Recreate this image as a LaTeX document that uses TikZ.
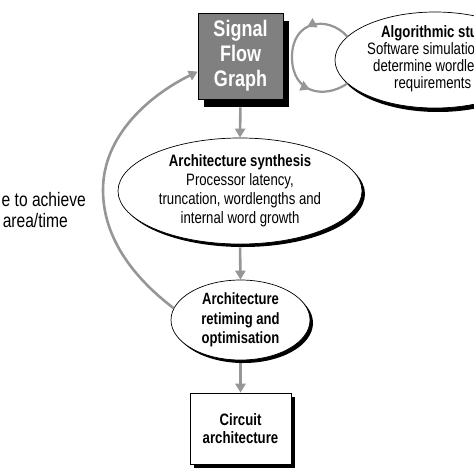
\documentclass[tikz,border=0pt]{standalone}
\usepackage{fontspec}
\setmainfont{Liberation Sans}[FakeStretch=0.8]
\usetikzlibrary{shapes.geometric,shadows,arrows.meta,decorations.markings}
\definecolor{boxgrey}{RGB}{128,128,128}
\definecolor{flowgrey}{RGB}{150,150,150}

\begin{document}
\begin{tikzpicture}[x=1pt,y=-1pt,
	flow/.style={draw=flowgrey,line width=2.6pt,-{Triangle[width=10pt,length=9pt]}},
	selfloop/.style={draw=flowgrey,line width=2.2pt,postaction={decorate},
		decoration={markings,
			mark=at position 0.28 with {\arrow[flowgrey]{Triangle[width=10pt,length=9pt]}},
			mark=at position 0.75 with {\arrow[flowgrey]{Triangle[width=10pt,length=9pt]}}}},
	stage/.style={ellipse,draw=black,fill=white,line width=0.7pt,align=center,
		drop shadow={shadow xshift=3pt,shadow yshift=-3pt,fill=black,opacity=1}},
	result/.style={rectangle,draw=black,line width=0.6pt,align=center,
		font=\bfseries\fontsize{16.5}{18}\selectfont}]
				\tikzstyle{every node}+=[inner sep=0pt]
				\clip (0,0) rectangle (474,474);
				\fill [white] (0,0) rectangle (474,474);
				\node [result,fill=boxgrey,text=white,minimum width=85pt,minimum height=86pt,font=\bfseries\fontsize{22.5}{25}\selectfont,drop shadow={shadow xshift=6pt,shadow yshift=-8pt,fill=black,opacity=1}] (sfg) at (240.5,56) {Signal\\Flow\\Graph};
				\node [stage,minimum width=200pt,minimum height=96pt,drop shadow={shadow xshift=3pt,shadow yshift=-4pt,fill=black,opacity=1}] (alg) at (435,60) {};
				\node [anchor=west,align=left,font=\fontsize{16.5}{17}\selectfont] (algtext) at (367,59) {\hspace*{14pt}\textbf{Algorithmic stu}\\Software simulatio\\\hspace*{6pt}determine wordle\\\hspace*{27pt}requirements};
				\node [stage,minimum width=244pt,minimum height=106pt,font=\fontsize{16.5}{19}\selectfont] (synth) at (240,191) {\textbf{Architecture synthesis}\\Processor latency,\\truncation, wordlengths and\\internal word growth};
				\node [stage,minimum width=139pt,minimum height=80pt,font=\bfseries\fontsize{16.3}{19.5}\selectfont] (retime) at (240.5,320) {Architecture\\retiming and\\optimisation};
				\node [result,fill=white,minimum width=101pt,minimum height=71pt,drop shadow={shadow xshift=4pt,shadow yshift=-4pt,fill=black,opacity=1}] (circuit) at (240.5,428.5) {Circuit\\architecture};
				\node [anchor=east,align=right,font=\fontsize{19.5}{21}\selectfont] (goal) at (86,210) {e to achieve\\area/time\hspace*{18pt}};
				\draw [flow,shorten <=8pt] (sfg.south) -- (synth.north);
				\draw [flow,shorten <=3pt] (synth.south) -- (retime.north);
				\draw [flow,shorten <=3pt] (retime.south) -- (circuit.north);
				\draw [flow] (retime.170) .. controls (130,275) and (103,235) .. (103,190) .. controls (103,135) and (150,95) .. (sfg.200);
				\draw [selfloop] (alg.165) .. controls (328,15) and (292,20) .. (292,57) .. controls (292,94) and (325,99) .. (alg.195);
			\end{tikzpicture}
\end{document}
